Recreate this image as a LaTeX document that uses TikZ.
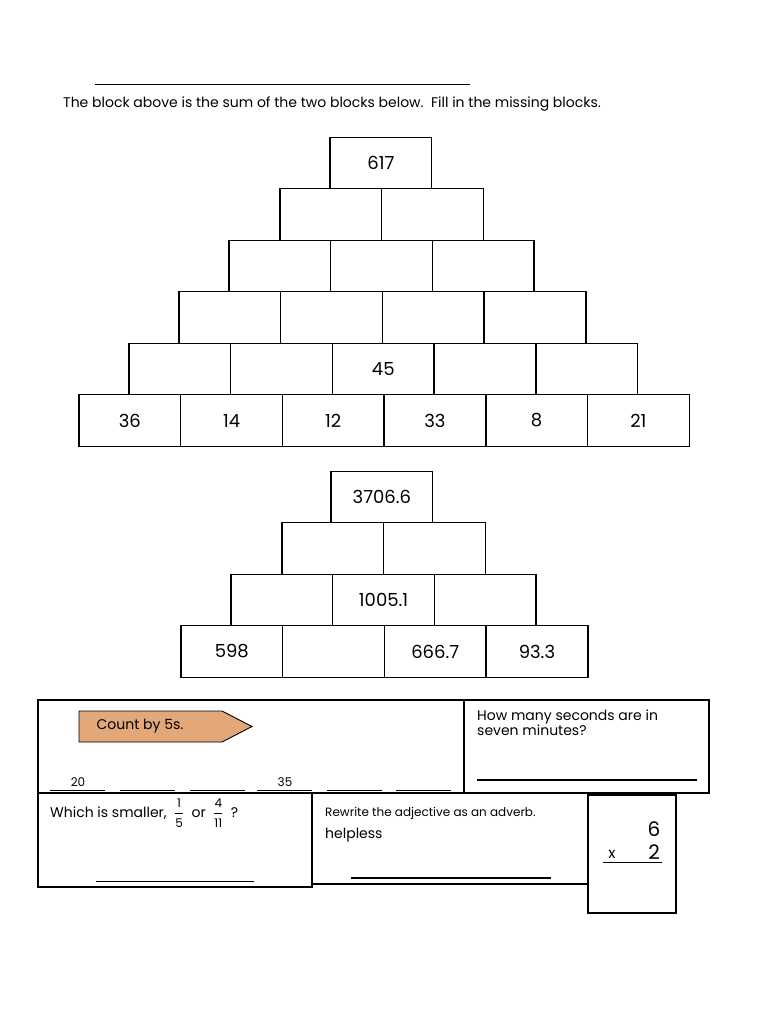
\documentclass[tikz,border=0pt]{standalone}
\usepackage{fontspec}
\setmainfont{Poppins}
\usetikzlibrary{shapes.symbols}
\newcommand\numfont{\fontsize{18}{20}\selectfont}
\newcommand\fracfont{\fontsize{12}{13}\selectfont}
\tikzset{
  block/.style={draw, line width=1.4pt, minimum width=101.7pt, minimum height=51.5pt, inner sep=0pt, font=\numfont},
  panel/.style={draw, line width=1.1pt},
  blank/.style={line width=0.8pt},
  txt/.style={font=\fontsize{14}{16}\selectfont, inner sep=0pt, align=left},
}
\begin{document}
\begin{tikzpicture}[x=1pt,y=-1pt]
    \useasboundingbox (0,0) rectangle (768,1024);

    % Header
    \coordinate (H1) at (95,84);
    \coordinate (H2) at (470,84);
    \draw[blank] (H1) -- (H2);
    \node[txt, anchor=west] (title) at (63,104) {The block above is the sum of the two blocks below.\ \ Fill in the missing blocks.};

    % Pyramid #1
    \foreach \r/\x/\n in {0/79/6,1/129/5,2/179/4,3/229/3,4/280/2,5/330/1} {
        \foreach \c in {1,...,\n} {
            \node[block] (a\r\c) at ({\x+(\c-0.5)*101.7},{420.5-\r*51.5}) {};
        }
    }
    \node at (a51) {\numfont 617};
    \node at (a13) {\numfont 45};
    \foreach \v [count=\c] in {36,14,12,33,8,21}
        \node at (a0\c) {\numfont \v};

    % Pyramid #2
    \foreach \r/\x/\n in {0/181/4,1/231/3,2/282/2,3/331/1} {
        \foreach \c in {1,...,\n} {
            \node[block] (b\r\c) at ({\x+(\c-0.5)*101.7},{651.5-\r*51.5}) {};
        }
    }
    \node at (b31) {\numfont 3706.6};
    \node at (b12) {\numfont 1005.1};
    \foreach \v/\c in {598/1,666.7/3,93.3/4}
        \node at (b0\c) {\numfont \v};

    % Count by 5s
    \draw[panel] (38,700) rectangle (709,793);
    \draw[panel] (464,700) -- (464,793);
    \draw[line width=0.9pt, fill={rgb,255:red,226;green,168;blue,122}]
        (79,711) -- (222,711) -- (252,726.5) -- (222,742) -- (79,742) -- cycle;
    \node[txt] (count) at (140,726.5) {Count by 5s.};
    \foreach \x [count=\i] in {50,120,190,257,327,396} {
        \coordinate (s\i) at (\x,790);
        \coordinate (e\i) at (\x+55,790);
        \draw[blank] (s\i) -- (e\i);
    }
    \node[font=\fontsize{12}{13}\selectfont, inner sep=0pt] at (78,782) {20};
    \node[font=\fontsize{12}{13}\selectfont, inner sep=0pt] at (285,782) {35};

    % Seconds
    \node[txt, anchor=north west, font=\fontsize{14}{15}\selectfont] (secs) at (477,710) {How many seconds are in\\seven minutes?};
    \draw[line width=1.4pt] (477,780) -- (697,780);

    % Fractions
    \draw[panel] (38,793) rectangle (312,887);
    \node[txt, anchor=west] (small) at (50,813)
        {Which is smaller,\ \ $\displaystyle\frac{\mbox{\fracfont 1}}{\mbox{\fracfont 5}}$\ \ or\ \ $\displaystyle\frac{\mbox{\fracfont 4}}{\mbox{\fracfont 11}}$\ \ ?};
    \draw[blank] (96,881) -- (254,881);

    % Adverb
    \draw[panel] (312,793) rectangle (588,884);
    \node[font=\fontsize{12}{13}\selectfont, anchor=west, inner sep=0pt] (adj) at (325,813) {Rewrite the adjective as an adverb.};
    \node[txt, anchor=west] (word) at (325,835) {helpless};
    \draw[line width=1.4pt] (351,878) -- (551,878);

    % Multiplication
    \draw[panel] (588,795) rectangle (676,913);
    \node[font=\fontsize{20}{22}\selectfont, inner sep=0pt] (six) at (654,829) {6};
    \node[font=\fontsize{20}{22}\selectfont, inner sep=0pt] (two) at (654,852) {2};
    \node[font=\fontsize{15}{16}\selectfont, inner sep=0pt] (times) at (612,854) {x};
    \draw[blank] (603,862) -- (662,862);
\end{tikzpicture}
\end{document}
